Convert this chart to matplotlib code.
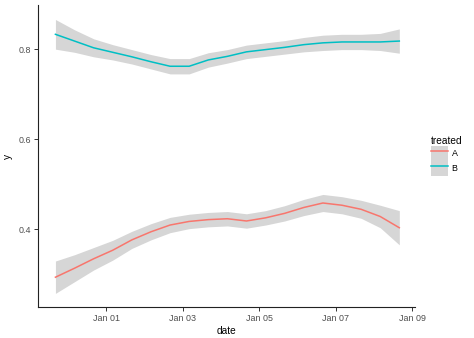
import numpy as np
import pandas as pd
import matplotlib
matplotlib.use('Agg')
import matplotlib.pyplot as plt
import matplotlib.dates as mdates
from matplotlib.patches import Patch
from matplotlib.lines import Line2D
from matplotlib.legend_handler import HandlerTuple

plt.rcParams['font.family'] = ['Liberation Sans', 'DejaVu Sans']

# smoothed fit for each group, sampled every 12 hours
dates = pd.date_range('2019-12-30 16:00', periods=19, freq='12h')

fit_a = [0.293, 0.313, 0.334, 0.353, 0.376, 0.394, 0.409, 0.417, 0.421, 0.423,
         0.418, 0.425, 0.435, 0.448, 0.458, 0.453, 0.444, 0.428, 0.403]
se_a = [0.036, 0.030, 0.025, 0.022, 0.019, 0.018, 0.017, 0.016, 0.016, 0.016,
        0.016, 0.016, 0.017, 0.018, 0.019, 0.019, 0.020, 0.025, 0.038]

fit_b = [0.833, 0.818, 0.803, 0.793, 0.783, 0.772, 0.762, 0.762, 0.776, 0.784,
         0.794, 0.799, 0.804, 0.810, 0.814, 0.816, 0.816, 0.816, 0.818]
se_b = [0.033, 0.025, 0.020, 0.017, 0.016, 0.016, 0.017, 0.017, 0.016, 0.015,
        0.015, 0.015, 0.015, 0.016, 0.017, 0.017, 0.017, 0.019, 0.027]

groups = ['A', 'B']
colors = ['#F8766D', '#00BFC4']
band_col = '#d6d6d6'

fig = plt.figure(figsize=(4.74, 3.38), dpi=100)
ax = fig.add_axes([0.080, 0.092, 0.796, 0.893])

handles = []
for fit, se, col in zip([fit_a, fit_b], [se_a, se_b], colors):
    fit = np.array(fit)
    se = np.array(se)
    ax.fill_between(dates, fit - se, fit + se, color=band_col, linewidth=0)
    ax.plot(dates, fit, color=col, linewidth=1.1)
    handles.append((Patch(facecolor=band_col, edgecolor='none'),
                    Line2D([], [], color=col, linewidth=1.1)))

# theme_classic look
for s in ['top', 'right']:
    ax.spines[s].set_visible(False)
for s in ['left', 'bottom']:
    ax.spines[s].set_linewidth(0.8)
    ax.spines[s].set_color('#222222')

ax.set_ylim(0.227, 0.898)
ax.set_yticks([0.4, 0.6, 0.8])
ax.set_xlim(pd.Timestamp('2019-12-30 05:00'), pd.Timestamp('2020-01-09 02:00'))
ax.xaxis.set_major_locator(mdates.DayLocator(bymonthday=[1, 3, 5, 7, 9]))
ax.xaxis.set_major_formatter(mdates.DateFormatter('%b %d'))
ax.tick_params(length=3, width=0.7, color='#333333', labelsize=6.4,
               labelcolor='#4d4d4d', pad=2)

ax.set_xlabel('date', fontsize=7.3, labelpad=2)
ax.set_ylabel('y', fontsize=7.3, labelpad=4)

# legend keys: grey band with the coloured line drawn over it
leg = ax.legend(handles, groups,
                handler_map={tuple: HandlerTuple(ndivide=1, pad=0)},
                title='treated', loc='center left', bbox_to_anchor=(1.0, 0.50),
                frameon=False, fontsize=6.4, title_fontsize=7.3,
                handlelength=1.9, handleheight=2.3, labelspacing=0,
                handletextpad=0.4, borderaxespad=1.4)
leg._legend_box.align = 'left'

fig.savefig('out.png', dpi=100)
